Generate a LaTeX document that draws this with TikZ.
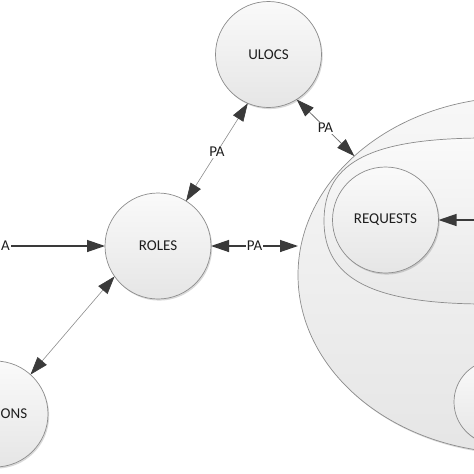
\documentclass[tikz,border=0pt]{standalone}
\usepackage{fontspec}
\setmainfont{Carlito}
\usetikzlibrary{arrows.meta,shadows,shapes.geometric}
\definecolor{edge}{HTML}{8C8C8C}
\definecolor{ink}{HTML}{1E1E1E}
\definecolor{arr}{HTML}{3A3A3A}
\begin{document}
\begin{tikzpicture}[x=1pt,y=-1pt,
  txt/.style={font=\fontsize{15}{18}\selectfont, text=ink},
  ent/.style={circle, draw=edge, line width=0.7pt, minimum size=106pt, inner sep=0pt, outer sep=0pt,
    top color=black!2, bottom color=black!10, txt,
    drop shadow={shadow xshift=1.2pt, shadow yshift=-1.6pt, opacity=0.15, fill=black}},
  lbl/.style={fill=white, inner sep=1pt, txt},
  both/.style={{Triangle[length=18pt,width=12pt,color=arr]}-{Triangle[length=18pt,width=12pt,color=arr]}},
  one/.style={-{Triangle[length=18pt,width=12pt,color=arr]}},
  heavy/.style={draw=arr, line width=1.3pt},
  medium/.style={draw=black!55, line width=0.8pt},
  light/.style={draw=black!45, line width=0.6pt}
]
\useasboundingbox (0,0) rectangle (474,474);
\clip (0,0) rectangle (474,474);

% big container ellipse
\node[ellipse, draw=edge, line width=0.7pt, minimum width=440pt, minimum height=356pt, inner sep=0pt, outer sep=0pt,
  top color=black!3, bottom color=black!10,
  drop shadow={shadow xshift=1.2pt, shadow yshift=-1.6pt, opacity=0.15, fill=black}] (big) at (518,275) {};

% inner rounded region
\draw[draw=edge, line width=0.7pt, top color=black!2, bottom color=black!9]
  (480,138) .. controls (375,139) and (324,160) .. (324,221)
  .. controls (324,280) and (375,303) .. (480,304) -- cycle;

\node[ent] (req) at (385.5,220) {REQUESTS};
\node[ent, minimum size=84pt] (br) at (496,402) {};

\node[ent] (ulocs) at (268.5,54.5) {ULOCS};
\node[ent] (roles) at (158,246) {ROLES};
\node[ent] (ons) at (-5,414) {};
\node[txt, anchor=west, inner sep=0pt] (onsl) at (0.5,414) {ONS};

% connectors
\draw[light, both] (roles.58) -- node[lbl] {PA} (ulocs.247);
\draw[medium, both] (ulocs.302) -- node[lbl] {PA} (big.144.8);
\draw[heavy, both] (roles.east) -- node[lbl] {PA} (roles.east -| big.west);
\draw[light, both] (roles.215.8) -- (ons.48.8);

\node[lbl, anchor=west] (pa0) at (0,246) {A};
\draw[heavy, one] (pa0) -- (roles);

\coordinate (rin) at (480,220);
\draw[heavy, one] (rin) -- (req.east);
\end{tikzpicture}
\end{document}
